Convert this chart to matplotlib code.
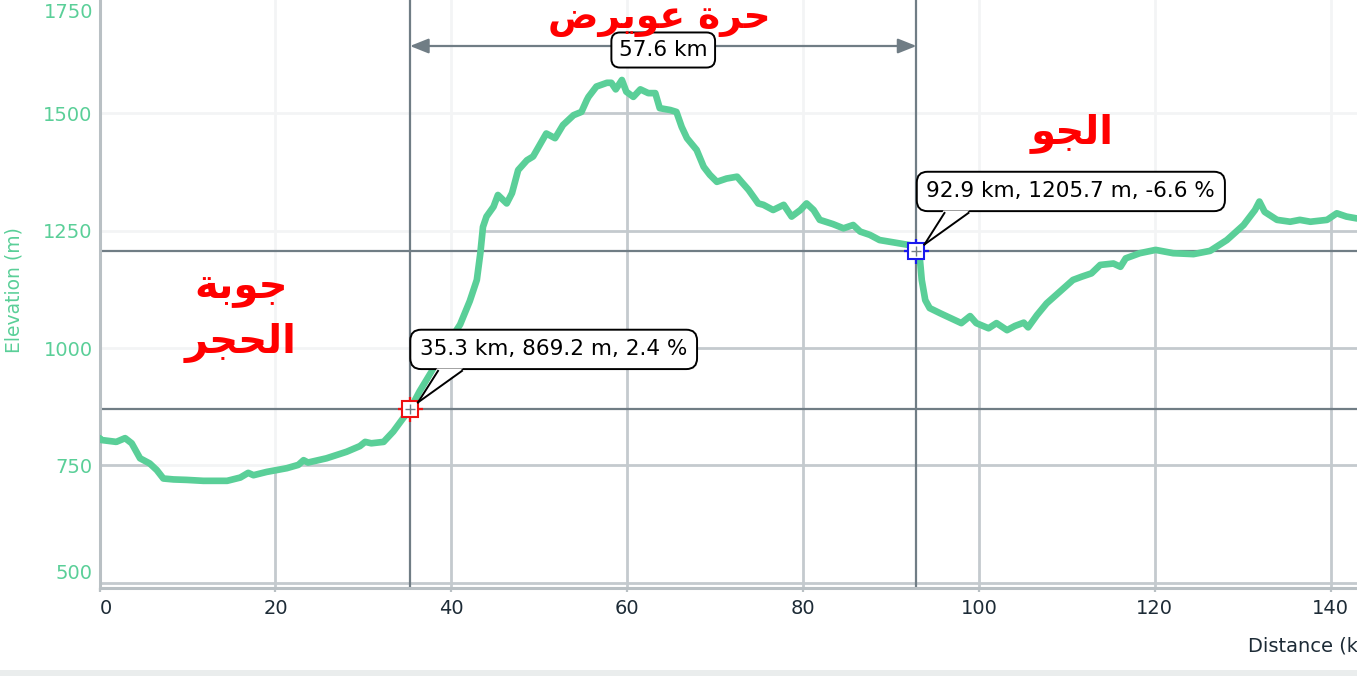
import matplotlib
matplotlib.use('Agg')
import matplotlib.pyplot as plt
from matplotlib.patches import Polygon, Rectangle
from matplotlib.lines import Line2D
from matplotlib.transforms import Affine2D, blended_transform_factory

# elevation profile
dist_km = [0, 0.2, 1.9, 2.9, 3.65, 4.6, 5.7, 6.5, 7.25, 8.4, 9.9, 11.8, 14.5, 16.0, 16.9,
           17.5, 19.0, 21.3, 22.6, 23.2, 23.7, 25.8, 28.1, 29.6, 30.2, 30.9, 32.3, 33.4, 34.5,
           35.3, 36.4, 37.6, 39.1, 39.8, 41.0, 42.1, 42.9, 43.3, 43.6, 44.0, 44.8, 45.3, 46.3,
           46.9, 47.6, 48.6, 49.3, 50.8, 51.8, 52.7, 53.9, 54.8, 55.4, 55.6, 56.5, 57.7, 58.2,
           58.7, 59.4, 59.9, 60.7, 61.5, 62.4, 63.2, 63.7, 64.9, 65.6, 66.2, 66.8, 67.9, 68.7,
           69.4, 70.2, 71.3, 72.5, 73.0, 73.8, 74.9, 75.5, 76.6, 77.8, 78.7, 79.7, 80.4, 81.2,
           81.9, 83.4, 84.6, 85.7, 86.5, 87.6, 88.7, 90.6, 92.2, 92.9, 93.3, 93.5, 93.9, 94.4,
           95.6, 97.1, 98.0, 99.0, 99.7, 101.1, 102.0, 103.2, 104.1, 105.1, 105.6, 106.6, 107.7,
           109.2, 110.7, 111.7, 112.8, 113.8, 115.3, 116.1, 116.7, 118.3, 120.1, 122.1, 124.4,
           126.3, 128.2, 130.1, 131.4, 131.9, 132.5, 133.9, 135.4, 136.5, 137.7, 139.6, 140.7,
           141.8, 143.0]
elev_m = [808, 804, 800, 808, 797, 765, 754, 740, 722, 720, 719, 717, 717, 724, 734,
          729, 736, 744, 751, 761, 756, 765, 779, 791, 800, 797, 800, 822, 850,
          869, 908, 945, 989, 1015, 1050, 1100, 1145, 1202, 1258, 1280, 1301, 1326, 1308,
          1330, 1379, 1400, 1408, 1457, 1447, 1475, 1496, 1503, 1528, 1535, 1557, 1565, 1565,
          1551, 1571, 1546, 1535, 1551, 1543, 1543, 1511, 1507, 1503, 1471, 1447, 1422, 1386,
          1369, 1354, 1361, 1365, 1354, 1337, 1308, 1305, 1294, 1305, 1280, 1294, 1308, 1294,
          1273, 1264, 1255, 1262, 1248, 1241, 1230, 1224, 1219, 1206, 1187, 1145, 1102, 1085,
          1074, 1061, 1053, 1068, 1053, 1042, 1053, 1038, 1047, 1054, 1044, 1070, 1095,
          1120, 1145, 1152, 1159, 1177, 1180, 1173, 1191, 1202, 1209, 1202, 1200,
          1207, 1230, 1262, 1294, 1312, 1290, 1273, 1269, 1273, 1269, 1273, 1287,
          1280, 1276]

x_ticks = [0, 20, 40, 60, 80, 100, 120, 140]
y_ticks = [500, 750, 1000, 1250, 1500]
top_tick = 1750

# the two picked points: km, m, grade %
pt_a = (35.3, 869.2, 2.4)
pt_b = (92.9, 1205.7, -6.6)

label_mid = 'حرة عويرض'
label_right = 'الجو'
label_left = ['جوبة', 'الحجر']

# --- tiny arabic shaper (presentation forms + visual order) ---
ARABIC = {'ا': (0xFE8D, False), 'ل': (0xFEDD, True), 'ح': (0xFEA1, True),
          'ج': (0xFE9D, True), 'ر': (0xFEAD, False), 'و': (0xFEED, False),
          'ب': (0xFE8F, True), 'ة': (0xFE93, False), 'ع': (0xFEC9, True),
          'ي': (0xFEF1, True), 'ض': (0xFEBD, True)}


def shape(txt):
    out = []
    for i, ch in enumerate(txt):
        if ch not in ARABIC:
            out.append(ch)
            continue
        base, dual = ARABIC[ch]
        prev = txt[i - 1] if i > 0 else ''
        nxt = txt[i + 1] if i + 1 < len(txt) else ''
        jp = prev in ARABIC and ARABIC[prev][1]
        jn = dual and nxt in ARABIC
        form = 3 if (jp and jn) else 1 if jp else 2 if jn else 0
        out.append(chr(base + form))
    return ''.join(out)[::-1]


plt.rcParams['font.family'] = ['DejaVu Sans']

W, H = 1357, 676
GREEN = '#5acf98'
GRID_DK = '#c4cace'
CROSS = '#707d85'
SPINE = '#b9c0c4'
DARK = '#1d2b36'

fig = plt.figure(figsize=(W / 100, H / 100), dpi=100)
ax = fig.add_axes([99.6 / W, 88 / H, (W - 99.6) / W, 588 / H])
ax.set_xlim(0, 143.0)
ax.set_ylim(488.7, 1741.4)

# grid: full lines, then washed out above the profile
for gx in x_ticks[1:]:
    ax.axvline(gx, color=GRID_DK, lw=2, zorder=1)
for gy in y_ticks:
    ax.axhline(gy, color=GRID_DK, lw=2, zorder=1)
ax.fill_between(dist_km, elev_m, 2000, color='white', alpha=0.8, lw=0, zorder=1.5)

# crosshairs
for km, m, _ in (pt_a, pt_b):
    ax.axvline(km, color=CROSS, lw=1.6, zorder=2)
    ax.axhline(m, color=CROSS, lw=1.6, zorder=2)

ax.plot(dist_km, elev_m, color=GREEN, lw=4.8, solid_joinstyle='round',
        solid_capstyle='round', zorder=4)

# markers
for (km, m, _), c in ((pt_a, '#ee1111'), (pt_b, '#1a1aee')):
    ax.plot(km, m, marker='+', ms=18, mew=1.6, color=c, zorder=6)
    ax.plot(km, m, marker='s', ms=11.5, mew=1.5, mec=c, mfc='white', zorder=7)
    ax.plot(km, m, marker='+', ms=6.5, mew=1.0, color=CROSS, zorder=8)

# callouts with a pointer
for km, m, g in (pt_a, pt_b):
    px, py = ax.transData.transform((km, m))
    tr = Affine2D().translate(px, py)
    ax.annotate(f'{km} km, {m} m, {g} %', xy=(km, m), xytext=(10, 60),
                textcoords='offset pixels', ha='left', va='center', fontsize=15.5,
                color='black', zorder=9,
                bbox=dict(boxstyle='round,pad=0.45,rounding_size=0.5', fc='white',
                          ec='black', lw=1.4))
    tip = (8, 7)
    wedge = Polygon([(27, 41), (53, 41), tip], closed=True, fc='white', ec='none',
                    transform=tr, zorder=10)
    fig.patches.append(wedge)
    for bx in (28, 52):
        fig.lines.append(Line2D([bx, tip[0]], [38.5, tip[1]], color='black', lw=1.4,
                                transform=tr, zorder=11))

# span arrow
btr = blended_transform_factory(ax.transData, ax.transAxes)
ay = 1 - 46 / 588
ax.annotate('', xy=(pt_b[0], ay), xytext=(pt_a[0], ay), xycoords=btr, textcoords=btr,
            arrowprops=dict(arrowstyle='<|-|>,head_length=0.45,head_width=0.18',
                            color=CROSS, lw=1.6, shrinkA=0, shrinkB=0, mutation_scale=25),
            zorder=5)
ax.text((pt_a[0] + pt_b[0]) / 2, 1 - 50 / 588, f'{pt_b[0] - pt_a[0]:.1f} km', transform=btr,
        ha='center', va='center', fontsize=15.5, color='black', zorder=9,
        bbox=dict(boxstyle='round,pad=0.35,rounding_size=0.4', fc='white', ec='black', lw=1.4))

# axes styling
for s in ('top', 'right'):
    ax.spines[s].set_visible(False)
for s in ('left', 'bottom'):
    ax.spines[s].set_color(SPINE)
    ax.spines[s].set_linewidth(2.2)
ax.set_xticks(x_ticks)
ax.set_yticks(y_ticks)
ax.tick_params(axis='x', length=3, width=1.6, color=SPINE, pad=5, labelsize=14,
               labelcolor=DARK)
ax.tick_params(axis='y', length=0, pad=5, labelsize=14, labelcolor=GREEN)
ax.get_xticklabels()[0].set_horizontalalignment('left')
ax.get_yticklabels()[0].set_verticalalignment('bottom')
fig.text(93 / W, 1 - 12 / H, str(top_tick), ha='right', va='center', fontsize=14,
         color=GREEN)
fig.text(14 / W, 1 - 290 / H, 'Elevation (m)', rotation=90, ha='center', va='center',
         fontsize=13.5, color=GREEN)
fig.text(1248 / W, 1 - 646 / H, 'Distance (km)', ha='left', va='center', fontsize=14,
         color=DARK)

# bottom strip
fig.patches.append(Rectangle((0, 0), 1, 6 / H, transform=fig.transFigure,
                             fc='#eaeded', ec='none'))

# red place names
red = dict(color='#ff0000', fontweight='bold', ha='center', va='center')
fig.text(659 / W, 1 - 19 / H, shape(label_mid), fontsize=27, **red)
fig.text(1072 / W, 1 - 133 / H, shape(label_right), fontsize=29, **red)
fig.text(241 / W, 1 - 288 / H, shape(label_left[0]), fontsize=29, **red)
fig.text(241 / W, 1 - 343 / H, shape(label_left[1]), fontsize=29, **red)

fig.savefig('out.png', dpi=100)
